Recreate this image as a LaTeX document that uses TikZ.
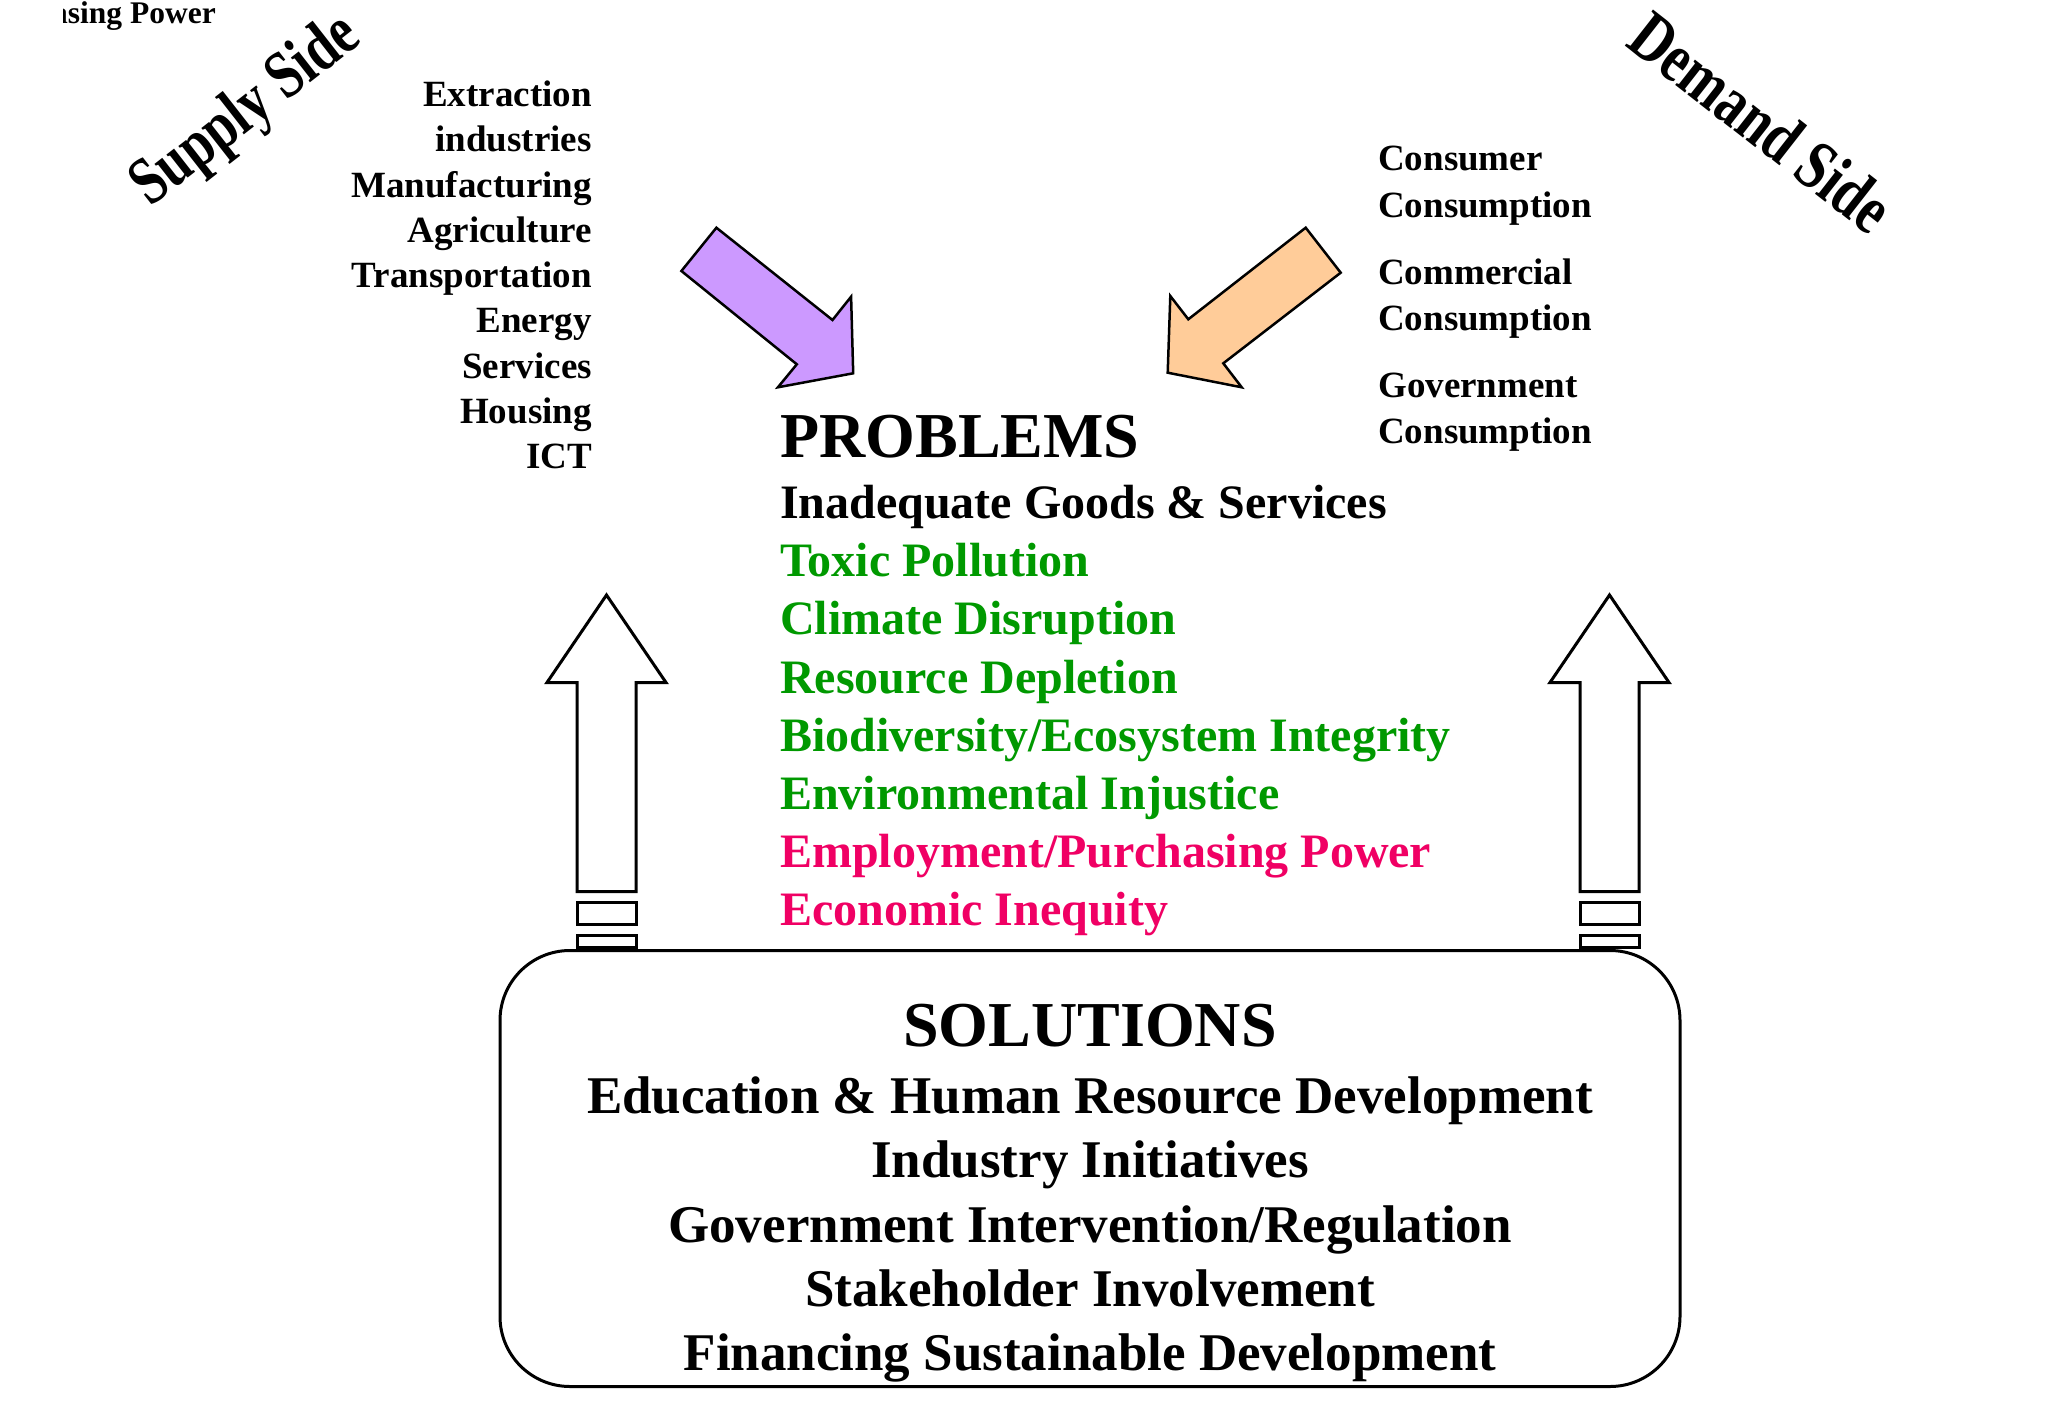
\documentclass[tikz,border=0pt]{standalone}
\usepackage{fontspec}
\setmainfont{Liberation Serif}
\newfontfamily\condfont[FakeStretch=0.78]{Liberation Serif}
\definecolor{probgreen}{RGB}{0,153,0}
\definecolor{probpink}{RGB}{240,0,100}
\definecolor{arrowpurple}{RGB}{204,153,255}
\definecolor{arroworange}{RGB}{255,204,153}
\tikzset{
  supplyitem/.style={anchor=base east, inner sep=0pt, font=\fontsize{37}{44}\selectfont\bfseries},
  demanditem/.style={anchor=base west, inner sep=0pt, font=\fontsize{37}{44}\selectfont\bfseries},
  probitem/.style={anchor=base west, inner sep=0pt, font=\fontsize{48}{58}\selectfont\bfseries},
  solitem/.style={anchor=base, inner sep=0pt, font=\fontsize{53}{64}\selectfont\bfseries},
  heading/.style={inner sep=0pt, font=\fontsize{64}{70}\selectfont\bfseries},
  sidelabel/.style={inner sep=0pt, font=\condfont\fontsize{70}{74}\selectfont\bfseries},
  blockarrow/.style={draw=black, line width=2.5pt, line join=miter},
  uparrow/.style={draw=black, fill=white, line width=3pt, line join=miter},
  solbox/.style={draw=black, line width=3pt, rounded corners=70pt, minimum width=1180pt, minimum height=436pt, inner sep=0pt}
}
\begin{document}
\begin{tikzpicture}[x=1pt,y=-1pt]
\useasboundingbox (0,0) rectangle (2048,1418);
\fill[white] (0,0) rectangle (2048,1418);

% clipped fragment at top-left
\begin{scope}
  \clip (63,0) rectangle (400,60);
  \node[anchor=base east, inner sep=0pt, font=\fontsize{31.5}{34}\selectfont\bfseries] (frag) at (216,23.5) {Purchasing Power};
\end{scope}

% side labels
\node[sidelabel, font=\condfont\fontsize{68}{72}\selectfont\bfseries, rotate=38] (supply) at (247,112) {Supply Side};
\node[sidelabel, rotate=-38] (demand) at (1762,122) {Demand Side};

% supply list
\node[supplyitem] (s1) at (592,107) {Extraction};
\node[supplyitem] (s2) at (592,152) {industries};
\node[supplyitem] (s3) at (592,197) {Manufacturing};
\node[supplyitem] (s4) at (592,242) {Agriculture};
\node[supplyitem] (s5) at (592,287.5) {Transportation};
\node[supplyitem] (s6) at (592,332.5) {Energy};
\node[supplyitem] (s7) at (592,378) {Services};
\node[supplyitem] (s8) at (592,423) {Housing};
\node[supplyitem] (s9) at (592,468) {ICT};

% demand list
\node[demanditem] (d1) at (1378,171) {Consumer};
\node[demanditem] (d2) at (1378,217) {Consumption};
\node[demanditem] (d3) at (1378,284) {Commercial};
\node[demanditem] (d4) at (1378,330) {Consumption};
\node[demanditem] (d5) at (1378,397) {Government};
\node[demanditem] (d6) at (1378,443) {Consumption};

% purple and orange block arrows
\filldraw[blockarrow, fill=arrowpurple]
  (716.4,227.7) -- (681.4,271) -- (796.8,364.3) -- (777.9,387.3)
  -- (853.2,373.3) -- (851.1,296.7) -- (832.5,320) -- cycle;
\filldraw[blockarrow, fill=arroworange]
  (1305.7,227.7) -- (1340.7,272.7) -- (1223.3,363.3) -- (1241.7,387.3)
  -- (1167.7,372.7) -- (1170.3,296) -- (1188.3,319.3) -- cycle;

% problems
\node[heading, anchor=base west] (problems) at (780,457) {PROBLEMS};
\node[probitem] (p1) at (780,518) {Inadequate Goods \& Services};
\node[probitem, text=probgreen] (p2) at (780,576) {Toxic Pollution};
\node[probitem, text=probgreen] (p3) at (780,634) {Climate Disruption};
\node[probitem, text=probgreen] (p4) at (780,693) {Resource Depletion};
\node[probitem, text=probgreen] (p5) at (780,751) {Biodiversity/Ecosystem Integrity};
\node[probitem, text=probgreen] (p6) at (780,809) {Environmental Injustice};
\node[probitem, text=probpink] (p7) at (780,867) {Employment/Purchasing Power};
\node[probitem, text=probpink] (p8) at (780,925) {Economic Inequity};

% up arrows
\foreach \cx/\nm in {606.5/L, 1609.5/R}{
  \filldraw[uparrow] (\cx,595) -- (\cx+59.5,682.5) -- (\cx+29.5,682.5) -- (\cx+29.5,891.5)
    -- (\cx-29.5,891.5) -- (\cx-29.5,682.5) -- (\cx-59.5,682.5) -- cycle;
  \draw[uparrow] (\cx-29.5,902.5) rectangle (\cx+29.5,924.5);
  \draw[uparrow] (\cx-29.5,935.5) rectangle (\cx+29.5,947);
}

% solutions box
\node[solbox] (solbox) at (1090,1168.5) {};
\node[heading, anchor=base] (solutions) at (1090,1046) {SOLUTIONS};
\node[solitem] (o1) at (1090,1113) {Education \& Human Resource Development};
\node[solitem] (o2) at (1090,1177) {Industry Initiatives};
\node[solitem] (o3) at (1090,1242) {Government Intervention/Regulation};
\node[solitem] (o4) at (1090,1306) {Stakeholder Involvement};
\node[solitem] (o5) at (1090,1370) {Financing Sustainable Development};
\end{tikzpicture}
\end{document}
